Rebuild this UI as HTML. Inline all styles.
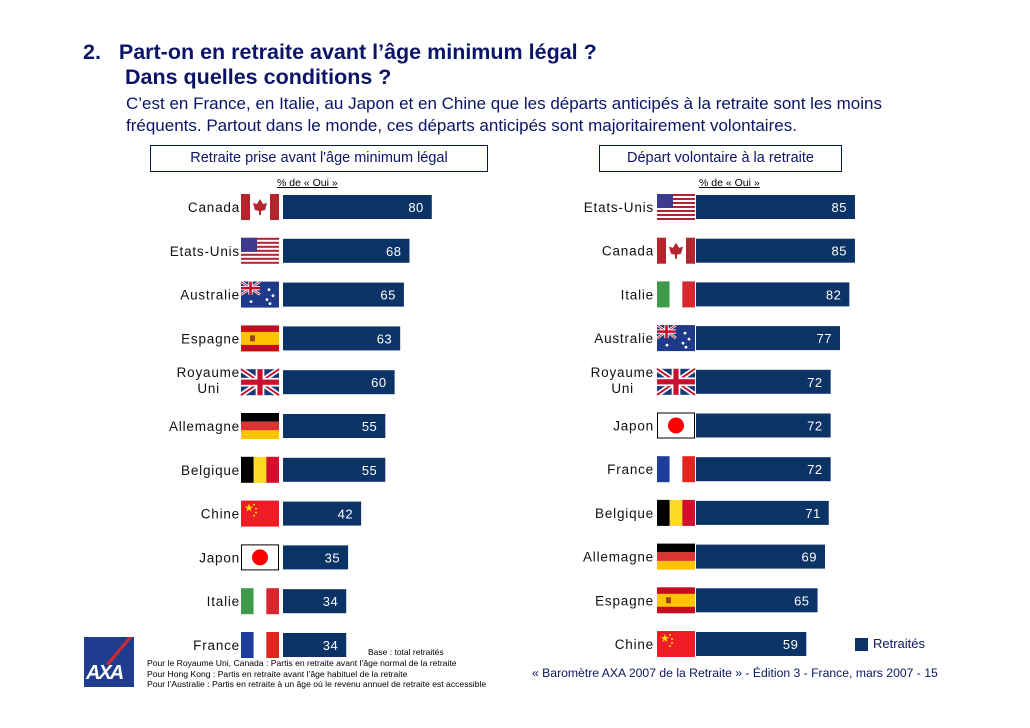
<!DOCTYPE html>
<html><head><meta charset="utf-8">
<style>
body{margin:0;width:1030px;height:728px;background:#fff;position:relative;overflow:hidden;font-family:"Liberation Sans",Arial,sans-serif;}
.abs{position:absolute;white-space:nowrap;}
</style></head>
<body>
<div class="abs" style="left:83px;top:40px;font-size:21.5px;font-weight:bold;color:#0b1466;">2.&nbsp;&nbsp; Part-on en retraite avant l’âge minimum légal ?</div>
<div class="abs" style="left:125px;top:65px;font-size:21.5px;font-weight:bold;color:#0b1466;">Dans quelles conditions ?</div>
<div class="abs" style="left:126px;top:93px;font-size:17px;line-height:22px;color:#0b1466;">C’est en France, en Italie, au Japon et en Chine que les départs anticipés à la retraite sont les moins<br>fréquents. Partout dans le monde, ces départs anticipés sont majoritairement volontaires.</div>
<svg id="chart" width="1030" height="728" style="position:absolute;left:0;top:0"></svg>
<script>
const leftCats=["Canada","Etats-Unis","Australie","Espagne","Royaume Uni","Allemagne","Belgique","Chine","Japon","Italie","France"];
const leftVals=[80,68,65,63,60,55,55,42,35,34,34];
const rightCats=["Etats-Unis","Canada","Italie","Australie","Royaume Uni","Japon","France","Belgique","Allemagne","Espagne","Chine"];
const rightVals=[85,85,82,77,72,72,72,71,69,65,59];
const NS="http://www.w3.org/2000/svg";
const svg=document.getElementById('chart');
const NAVY="#0b3366";
function el(t,a,p){const e=document.createElementNS(NS,t);for(const k in a)e.setAttribute(k,a[k]);(p||svg).appendChild(e);return e;}
function flag(c,x,y,g){const w=38,h=26;
 if(c==="Canada"){el('rect',{x,y,width:w,height:h,fill:'#fff'},g);el('rect',{x,y,width:9,height:h,fill:'#b5252e'},g);el('rect',{x:x+w-9,y,width:9,height:h,fill:'#b5252e'},g);
  el('polygon',{points:`${x+19},${y+5} ${x+22},${y+10} ${x+26},${y+9} ${x+24},${y+16} ${x+20},${y+17} ${x+20},${y+21} ${x+18},${y+21} ${x+18},${y+17} ${x+14},${y+16} ${x+12},${y+9} ${x+16},${y+10}`,fill:'#b5252e'},g);}
 else if(c==="Etats-Unis"){el('rect',{x,y,width:w,height:h,fill:'#fff'},g);for(let i=0;i<7;i++)el('rect',{x,y:y+i*h/6.5,width:w,height:h/13,fill:'#b22234'},g);el('rect',{x,y,width:16,height:14,fill:'#3c3b8e'},g);}
 else if(c==="Australie"){el('rect',{x,y,width:w,height:h,fill:'#1f3a8a'},g);ukmini(x,y,19,13,g);[[28,8],[32,14],[26,18],[29,22],[10,20]].forEach(p=>el('circle',{cx:x+p[0],cy:y+p[1],r:1.4,fill:'#fff'},g));}
 else if(c==="Espagne"){el('rect',{x,y,width:w,height:h,fill:'#c60b1e'},g);el('rect',{x,y:y+6.5,width:w,height:13,fill:'#ffc400'},g);el('rect',{x:x+9,y:y+10,width:5,height:6,fill:'#a0411d'},g);}
 else if(c==="Royaume Uni"){ukmini(x,y,w,h,g);}
 else if(c==="Allemagne"){el('rect',{x,y,width:w,height:h/3,fill:'#000'},g);el('rect',{x,y:y+h/3,width:w,height:h/3,fill:'#dd3333'},g);el('rect',{x,y:y+2*h/3,width:w,height:h/3,fill:'#ffc200'},g);}
 else if(c==="Belgique"){el('rect',{x,y,width:w/3,height:h,fill:'#000'},g);el('rect',{x:x+w/3,y,width:w/3,height:h,fill:'#fdda24'},g);el('rect',{x:x+2*w/3,y,width:w/3,height:h,fill:'#d2102e'},g);}
 else if(c==="Chine"){el('rect',{x,y,width:w,height:h,fill:'#ee1c25'},g);el('text',{x:x+3,y:y+11,fill:'#ffde00','font-size':11},g).textContent='★';[[13,4],[15,8],[15,12],[13,15]].forEach(p=>el('circle',{cx:x+p[0],cy:y+p[1],r:1,fill:'#ffde00'},g));}
 else if(c==="Japon"){el('rect',{x:x+.5,y:y+.5,width:w-1,height:h-1,fill:'#fff',stroke:'#000','stroke-width':1},g);el('circle',{cx:x+w/2,cy:y+h/2,r:8,fill:'#f00'},g);}
 else if(c==="Italie"){el('rect',{x,y,width:w/3,height:h,fill:'#3d9b4a'},g);el('rect',{x:x+w/3,y,width:w/3,height:h,fill:'#fff'},g);el('rect',{x:x+2*w/3,y,width:w/3,height:h,fill:'#d9262e'},g);}
 else if(c==="France"){el('rect',{x,y,width:w/3,height:h,fill:'#1d3c9c'},g);el('rect',{x:x+w/3,y,width:w/3,height:h,fill:'#fff'},g);el('rect',{x:x+2*w/3,y,width:w/3,height:h,fill:'#e0261e'},g);}
}
function ukmini(x,y,w,h,g){el('rect',{x,y,width:w,height:h,fill:'#1a3a78'},g);
 el('line',{x1:x,y1:y,x2:x+w,y2:y+h,stroke:'#fff','stroke-width':h/5},g);el('line',{x1:x+w,y1:y,x2:x,y2:y+h,stroke:'#fff','stroke-width':h/5},g);
 el('line',{x1:x,y1:y,x2:x+w,y2:y+h,stroke:'#c8102e','stroke-width':h/14},g);el('line',{x1:x+w,y1:y,x2:x,y2:y+h,stroke:'#c8102e','stroke-width':h/14},g);
 el('rect',{x:x+w/2-h/6,y,width:h/3,height:h,fill:'#fff'},g);el('rect',{x,y:y+h/2-h/6,width:w,height:h/3,fill:'#fff'},g);
 el('rect',{x:x+w/2-h/10,y,width:h/5,height:h,fill:'#c8102e'},g);el('rect',{x,y:y+h/2-h/10,width:w,height:h/5,fill:'#c8102e'},g);}
function panel(cats,vals,x0,labelX,flagX,y0,step,scale,side){
 cats.forEach((c,i)=>{const cy=y0+i*step;const g=el('g',{});
  
  
  flag(c,flagX,cy-13,g);
  const b=el('rect',{x:x0,y:cy-12,width:vals[i]*scale,height:24,fill:NAVY},g);
  
  
  const v=el('text',{x:x0+vals[i]*scale-8,y:cy+5,'text-anchor':'end',fill:'#fff','font-size':13,'letter-spacing':0.5},g);v.textContent=vals[i];
  const ta={'text-anchor':'end','font-size':13.5,fill:'#111','letter-spacing':0.8};
  if(c==="Royaume Uni"){const t=el('text',Object.assign({x:labelX,y:cy-5},ta),g);t.textContent='Royaume';
   const t2=el('text',Object.assign({x:labelX-20,y:cy+11},ta),g);t2.textContent='Uni';}
  else{const t=el('text',Object.assign({x:labelX,y:cy+5},ta),g);t.textContent=c;}
 });}
panel(leftCats,leftVals,283,240,241,207,43.8,1.86,'left');
panel(rightCats,rightVals,696,654,657,207,43.7,1.87,'right');
</script>
<div class="abs" style="left:150px;top:145px;width:336px;height:25px;border:1px solid #0b1466;font-size:14.5px;color:#0b1466;line-height:25px;text-align:center;">Retraite prise avant l'âge minimum légal</div>
<div class="abs" style="left:599px;top:145px;width:241px;height:25px;border:1px solid #0b1466;font-size:14.5px;color:#0b1466;line-height:25px;text-align:center;">Départ volontaire à la retraite</div>
<div class="abs" style="left:277px;top:177px;font-size:10.5px;text-decoration:underline;">% de « Oui »</div>
<div class="abs" style="left:699px;top:177px;font-size:10.5px;text-decoration:underline;">% de « Oui »</div>
<div class="abs" style="left:855px;top:638px;width:13px;height:13px;background:#0b3366;"></div>
<div class="abs" style="left:873px;top:636px;font-size:13px;color:#0b1466;">Retraités</div>
<div class="abs" style="left:368px;top:647px;font-size:8.5px;">Base : total retraités</div>
<div class="abs" style="left:147px;top:658px;font-size:8.6px;line-height:10.5px;">Pour le Royaume Uni, Canada : Partis en retraite avant l’âge normal de la retraite<br>Pour Hong Kong : Partis en retraite avant l’âge habituel de la retraite<br>Pour l’Australie : Partis en retraite à un âge où le revenu annuel de retraite est accessible</div>
<div class="abs" style="left:532px;top:666px;font-size:12.2px;color:#0b1466;">« Baromètre AXA 2007 de la Retraite » - Édition 3 - France, mars 2007 - 15</div>
<div class="abs" style="left:84px;top:637px;width:50px;height:50px;background:#1f3d8f;overflow:hidden;">
<div style="position:absolute;top:-4px;width:3px;height:40px;background:#d2282e;transform:rotate(40deg);transform-origin:top left;left:48px;"></div>
<div style="position:absolute;left:2px;top:25px;font-size:20px;font-weight:bold;font-style:italic;color:#fff;letter-spacing:-2px;">AXA</div></div>
</body></html>
